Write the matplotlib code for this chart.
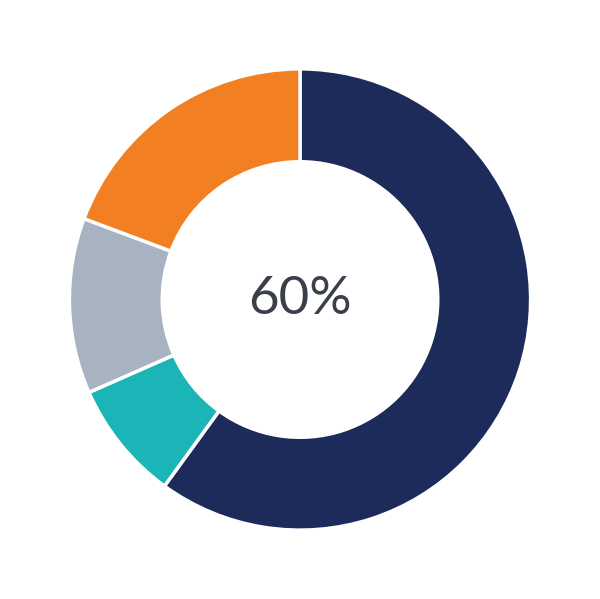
import matplotlib.pyplot as plt

# Shares, clockwise from 12 o'clock
labels = ["Navy", "Teal", "Gray", "Orange"]
values = [60, 8.4, 12.3, 19.3]
colors = ["#1c2b5a", "#1cb5b7", "#a8b3c1", "#f28022"]
center_text = "60%"

fig = plt.figure(figsize=(6, 5.99), dpi=100)
ax = fig.add_axes([0, 0, 1, 1])

ax.pie(values, colors=colors, startangle=90, counterclock=False, radius=0.77,
       wedgeprops=dict(width=0.31, edgecolor="white", linewidth=2.5))
ax.text(0, 0, center_text, ha="center", va="center", fontsize=38,
        family="Lato", color="#3a3f4a")

ax.set_xlim(-1, 1)
ax.set_ylim(-1, 1)
ax.set_aspect("equal")
ax.axis("off")

fig.savefig("out.png", dpi=100, facecolor="white")
